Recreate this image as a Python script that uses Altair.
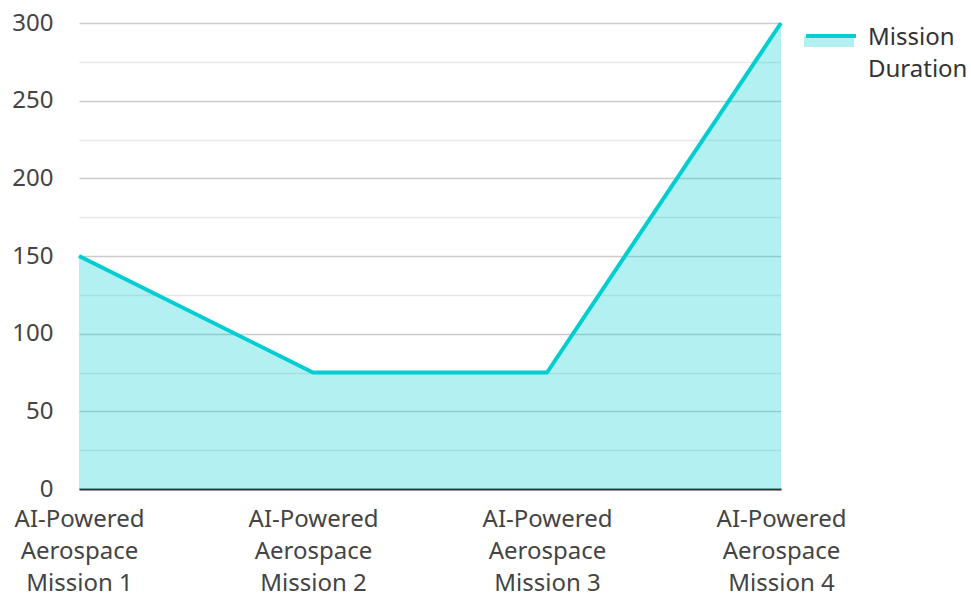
import altair as alt
import pandas as pd

missions = ["AI-Powered Aerospace Mission 1", "AI-Powered Aerospace Mission 2",
            "AI-Powered Aerospace Mission 3", "AI-Powered Aerospace Mission 4"]
durations = [150, 75, 75, 300]
series = ["Mission Duration"] * 4

df = pd.DataFrame({"mission": missions, "duration": durations,
                   "series": series, "series_fill": series})

FONT = "Noto Sans"
TEAL = "#00CED1"
FS = 24

x = alt.X("mission:N", sort=missions, scale=alt.Scale(type="point", padding=0),
          axis=alt.Axis(title=None, labelAngle=0, labelFontSize=FS, labelColor="#444444",
                        labelFont=FONT, labelLineHeight=32, labelPadding=18,
                        ticks=False, domainColor="#333333", domainWidth=2, grid=False,
                        labelBaseline="top",
                        labelExpr="[split(datum.label,' ')[0], split(datum.label,' ')[1], split(datum.label,' ')[2] + ' ' + split(datum.label,' ')[3]]"))

y = alt.Y("duration:Q", scale=alt.Scale(domain=[0, 300], nice=False),
          axis=alt.Axis(title=None, values=list(range(0, 301, 25)), labelFontSize=FS,
                        labelColor="#444444", labelFont=FONT, ticks=False, domain=False,
                        labelPadding=26,
                        labelExpr="datum.value % 50 === 0 ? datum.label : ''",
                        gridColor={"condition": {"test": "datum.value % 50 === 0", "value": "#cccccc"},
                                   "value": "#e8e8e8"},
                        gridWidth=1.5))

LX, LY = 725, -12

fill_legend = alt.Legend(title=None, orient="none", legendX=LX, legendY=LY,
                         symbolType="M-1,0H1V0.44H-1Z", symbolSize=2500,
                         symbolStrokeWidth=0, symbolOpacity=0.3,
                         labelFontSize=FS, labelFont=FONT, labelOpacity=0,
                         labelOffset=10, labelLimit=200,
                         labelExpr="['', '']")

stroke_legend = alt.Legend(title=None, orient="none", legendX=LX, legendY=LY,
                           symbolType="M-1,-0.08H1", symbolSize=2500,
                           symbolStrokeWidth=4,
                           labelFontSize=FS, labelFont=FONT, labelColor="#333333",
                           labelOffset=10, labelLimit=200,
                           labelExpr="split(datum.label, ' ')")

area = alt.Chart(df).mark_area(fillOpacity=0.3).encode(
    x=x, y=y,
    fill=alt.Fill("series_fill:N", scale=alt.Scale(range=[TEAL]), legend=fill_legend),
)

line = alt.Chart(df).mark_line(strokeWidth=4).encode(
    x=x, y=y,
    stroke=alt.Stroke("series:N", scale=alt.Scale(range=[TEAL]), legend=stroke_legend),
)

chart = alt.layer(area, line).properties(
    width=702, height=466,
    autosize=alt.AutoSizeParams(type="none"),
    padding={"left": 79, "top": 23, "right": 190, "bottom": 105},
).configure(style={"guide-label": {"lineHeight": 32}}, view=alt.ViewConfig(stroke=None))

chart.save("out.html", embed_options={"renderer": "svg", "actions": False})
